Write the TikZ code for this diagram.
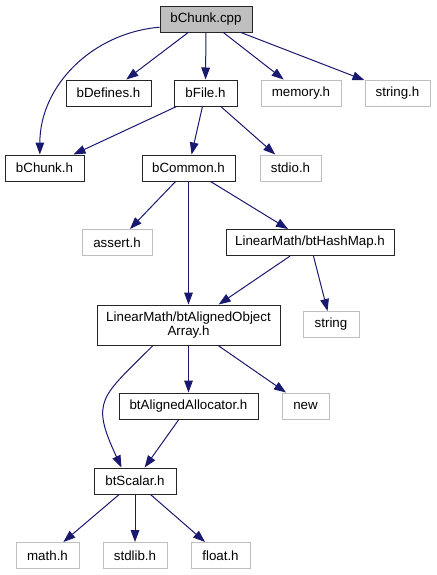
\documentclass[tikz,border=0pt]{standalone}
\usepackage{fontspec}
\setmainfont{Liberation Sans}
\usetikzlibrary{arrows.meta}
\definecolor{edgeblue}{HTML}{191970}
\definecolor{extgray}{HTML}{BFBFBF}
\tikzset{
    box/.style={rectangle, inner sep=0pt, minimum height=19.5pt, font=\fontsize{10}{11}\selectfont, line width=0.75pt},
    doc/.style={box, draw=black!85, fill=white},
    ext/.style={box, draw=extgray, fill=white},
    cur/.style={box, draw=black!85, fill=extgray},
    edge/.style={draw=edgeblue, line width=0.75pt, -{Triangle[length=9pt,width=6.5pt]}}
}
\begin{document}
\begin{tikzpicture}[x=0.75pt, y=-0.75pt]
            \useasboundingbox (0,0) rectangle (436,575);
            % Files
            \node[cur, minimum width=69pt] (cpp) at (206,19) {bChunk.cpp};
            \node[doc, minimum width=63.75pt] (bdefines) at (108.5,93) {bDefines.h};
            \node[doc, minimum width=47.25pt] (bfile) at (205.5,93) {bFile.h};
            \node[ext, minimum width=60pt] (memory) at (301,93) {memory.h};
            \node[ext, minimum width=48.75pt] (stringh) at (397.5,93) {string.h};
            \node[doc, minimum width=59.25pt] (bchunkh) at (44.5,168) {bChunk.h};
            \node[doc, minimum width=69.75pt] (bcommon) at (188.5,168) {bCommon.h};
            \node[ext, minimum width=45.75pt] (stdio) at (290.5,168) {stdio.h};
            \node[ext, minimum width=52.5pt] (assert) at (117,242.5) {assert.h};
            \node[doc, minimum width=126pt] (hashmap) at (310,242.5) {LinearMath/btHashMap.h};
            \node[doc, minimum width=137.25pt, minimum height=30pt, align=center] (objarray) at (188.5,325) {LinearMath/btAlignedObject\\Array.h};
            \node[ext, minimum width=42pt] (string) at (331,324.5) {string};
            \node[doc, minimum width=104.25pt] (allocator) at (188.5,406) {btAlignedAllocator.h};
            \node[ext, minimum width=35.25pt] (new) at (305.5,406) {new};
            \node[doc, minimum width=61.5pt] (scalar) at (135,481) {btScalar.h};
            \node[ext, minimum width=47.25pt] (math) at (47.5,555.5) {math.h};
            \node[ext, minimum width=48pt] (stdlib) at (135,555.5) {stdlib.h};
            \node[ext, minimum width=44.25pt] (float) at (220.5,555.5) {float.h};

            % Includes
            \draw[edge] (cpp.190) to[out=185, in=90] (bchunkh.109);
            \draw[edge] (cpp) -- (bdefines);
            \draw[edge] (cpp) -- (bfile);
            \draw[edge] (cpp) -- (memory);
            \draw[edge] (cpp) -- (stringh);
            \draw[edge] (bfile) -- (bchunkh);
            \draw[edge] (bfile) -- (bcommon);
            \draw[edge] (bfile) -- (stdio);
            \draw[edge] (bcommon) -- (assert);
            \draw[edge] (bcommon) -- (objarray);
            \draw[edge] (bcommon) -- (hashmap);
            \draw[edge] (hashmap) -- (objarray);
            \draw[edge] (hashmap) -- (string);
            \draw[edge] (objarray.210) to[out=225, in=115, looseness=1.5] (scalar.135);
            \draw[edge] (objarray) -- (allocator);
            \draw[edge] (objarray) -- (new);
            \draw[edge] (allocator) -- (scalar);
            \draw[edge] (scalar) -- (math);
            \draw[edge] (scalar) -- (stdlib);
            \draw[edge] (scalar) -- (float);
        \end{tikzpicture}
\end{document}
